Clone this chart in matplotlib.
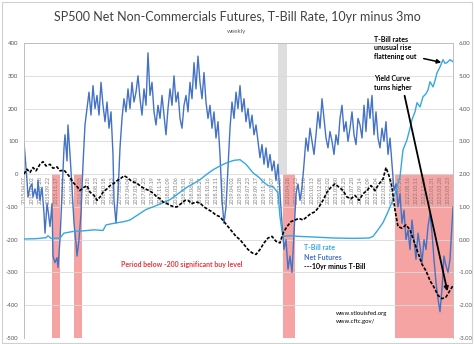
import pandas as pd
import matplotlib
matplotlib.use('Agg')
import matplotlib.pyplot as plt
from matplotlib.patches import Rectangle, FancyArrowPatch

plt.rcParams['font.family'] = ['Lato', 'DejaVu Sans']

# weekly x axis: week index from the start date
start_date = '2015-04-07'
n_weeks = 429
label_every = 8

# Net non-commercial futures (left axis)
fut_week = [0, 1, 3, 4, 6, 8, 9, 11, 13, 14, 16, 18, 20, 21, 23, 24, 26, 28, 29, 31,
            33, 34, 36, 38, 40, 41, 43, 44, 46, 48, 50, 52, 53, 55, 57, 59, 61, 63, 65, 67,
            69, 71, 73, 75, 77, 79, 81, 83, 85, 87, 89, 90, 92, 94, 96, 98, 100, 102, 104, 106,
            108, 110, 112, 114, 116, 118, 120, 122, 124, 126, 128, 130, 132, 134, 136, 138, 140, 142, 144, 146,
            148, 150, 152, 154, 156, 158, 160, 162, 164, 166, 168, 170, 172, 174, 176, 178, 180, 182, 184, 186,
            188, 190, 192, 194, 196, 198, 200, 202, 204, 206, 208, 210, 212, 214, 216, 218, 220, 222, 224, 226,
            228, 230, 232, 234, 236, 238, 240, 242, 244, 246, 248, 250, 252, 254, 256, 258, 260, 262, 264, 266,
            268, 270, 272, 274, 276, 278, 280, 282, 284, 286, 288, 290, 292, 294, 296, 298, 300, 302, 304, 306,
            308, 310, 312, 314, 316, 318, 320, 322, 324, 326, 328, 330, 332, 334, 336, 338, 340, 342, 344, 346,
            348, 350, 352, 354, 356, 358, 360, 362, 364, 366, 368, 370, 372, 374, 376, 378, 380, 382, 384, 386,
            388, 390, 392, 394, 396, 398, 400, 402, 404, 406, 408, 410, 412, 414, 416, 418, 420, 422, 424, 426,
            428, 429]
fut_value = [95, 60, -20, -70, -40, -30, -70, -45, -75, -20, -80, -40, -120, -180, -90, -110, -160, -90, -250, -270,
             -255, -285, -200, -60, 80, 120, 40, 150, 60, -40, -150, -210, -250, -200, -120, 30, 150, 200, 250, 180,
             270, 200, 240, 180, 280, 210, 160, 220, 140, 190, 60, -80, -150, -60, 80, 170, 230, 190, 260, 200,
             280, 220, 250, 300, 230, 180, 260, 210, 370, 240, 280, 190, 150, 210, 170, 240, 180, 120, 200, 260,
             210, 300, 220, 250, 170, 140, 210, 240, 190, 280, 230, 340, 260, 360, 280, 230, 310, 220, 170, 210,
             140, 190, 110, 160, 60, -80, -150, -100, 20, 140, 220, 170, 250, 200, 270, 190, 230, 160, 200, 140,
             180, 120, 150, 100, 50, 90, 30, 80, 20, 60, 10, 40, -20, 30, -60, -150, -230, -200, -290, -250,
             -300, -180, -60, -30, -80, -40, 30, 110, 70, 140, 100, 60, 120, 190, 140, 230, 170, 110, 80, 130,
             100, 60, 120, 90, 170, 210, 130, 160, 100, 140, 190, 120, 90, 170, 150, 110, 210, 130, 230, 170,
             240, 120, 190, 110, 80, 140, 100, 160, 60, 110, 30, -50, -30, -100, -60, -150, -110, -200, -170, -230,
             -140, -200, -260, -180, -220, -270, -200, -230, -160, -120, -180, -260, -330, -380, -420, -350, -250, -280, -300, -260,
             -150, -100]

# 3-month T-bill rate (right axis)
tbill_week = [0, 12, 22, 24, 27, 36, 40, 49, 60, 70, 79, 82, 90, 100, 106, 115, 122, 129, 137, 146,
              154, 163, 170, 176, 183, 189, 196, 203, 210, 216, 222, 229, 235, 239, 244, 249, 254, 256, 258, 260,
              266, 275, 290, 310, 330, 345, 349, 354, 359, 364, 369, 373, 376, 379, 383, 386, 388, 391, 393, 396,
              399, 402, 404, 406, 409, 411, 413, 416, 419, 421, 423, 426, 429]
tbill_rate = [0.02, 0.03, 0.06, 0.12, 0.04, 0.05, 0.20, 0.25, 0.27, 0.30, 0.28, 0.45, 0.50, 0.55, 0.60, 0.78, 0.92, 1.00, 1.10, 1.22,
              1.40, 1.60, 1.72, 1.83, 2.00, 2.13, 2.25, 2.35, 2.42, 2.44, 2.30, 2.04, 1.90, 1.77, 1.65, 1.62, 1.43, 0.70, 0.25, 0.10,
              0.12, 0.10, 0.08, 0.05, 0.04, 0.05, 0.10, 0.30, 0.52, 0.85, 1.22, 1.60, 1.92, 2.74, 3.05, 3.40, 3.66, 3.90, 4.18, 4.05,
              4.36, 4.45, 4.57, 4.82, 4.66, 4.85, 5.09, 5.27, 5.49, 5.38, 5.40, 5.49, 5.43]

# 10yr minus 3mo spread (right axis)
spread_week = [0, 3, 6, 9, 12, 16, 19, 22, 26, 29, 33, 36, 40, 43, 46, 49, 53, 56, 60, 63,
               66, 70, 73, 76, 79, 83, 86, 90, 93, 96, 100, 103, 107, 110, 113, 117, 121, 125, 129, 133,
               136, 139, 143, 146, 150, 153, 157, 161, 164, 168, 172, 176, 180, 184, 188, 192, 196, 200, 204, 208,
               212, 216, 220, 224, 228, 232, 236, 240, 244, 248, 252, 256, 259, 263, 267, 271, 275, 279, 283, 287,
               291, 295, 299, 303, 307, 311, 315, 319, 323, 327, 331, 335, 339, 343, 347, 351, 355, 359, 362, 365,
               368, 371, 374, 378, 382, 386, 390, 394, 398, 402, 406, 410, 414, 418, 422, 426, 429]
spread_value = [2.00, 2.15, 2.05, 2.20, 2.10, 2.30, 2.38, 2.25, 2.30, 2.18, 2.22, 2.10, 2.12, 2.02, 1.90, 1.75, 1.62, 1.50, 1.60, 1.65,
                1.45, 1.35, 1.20, 1.30, 1.45, 1.55, 1.65, 1.72, 1.80, 1.85, 1.95, 1.90, 1.80, 1.75, 1.72, 1.62, 1.55, 1.50, 1.42, 1.30,
                1.25, 1.15, 1.10, 1.05, 1.00, 1.00, 1.10, 1.20, 1.20, 1.10, 1.15, 1.12, 1.00, 0.92, 0.85, 0.75, 0.70, 0.55, 0.40, 0.25,
                0.10, 0.00, -0.15, -0.30, -0.40, -0.45, -0.30, -0.10, 0.05, 0.10, -0.05, -0.10, 0.20, 0.40, 0.55, 0.60, 0.65, 0.60, 0.70, 0.80,
                0.85, 1.00, 1.20, 1.45, 1.60, 1.70, 1.60, 1.50, 1.30, 1.25, 1.35, 1.20, 1.40, 1.50, 1.65, 1.50, 1.70, 1.85, 2.20, 1.95,
                1.60, 0.90, 0.40, 0.35, 0.45, 0.30, -0.05, -0.40, -0.75, -0.95, -1.25, -1.45, -1.70, -1.80, -1.75, -1.55, -1.40]

# shaded periods (week index ranges)
buy_periods = [(28, 36), (50, 58), (259, 271), (371, 429)]
recession = [(254, 263)]

left_ticks = [400, 300, 200, 100, 0, -100, -200, -300, -400, -500]
right_ticks = [6, 5, 4, 3, 2, 1, 0, -1, -2, -3]

W, H = 474, 344
fig = plt.figure(figsize=(W / 100, H / 100), dpi=100)


def px(x, y):
    return x / W, 1 - y / H


ax = fig.add_axes([24 / W, 1 - 338 / H, (453 - 24) / W, (338 - 43) / H])
ax2 = ax.twinx()

ax.set_xlim(0, n_weeks)
ax.set_ylim(-500, 400)
ax2.set_ylim(-3, 6)

for a, b in recession:
    ax.fill_between([a, b], 0, 400, color='#dedede', lw=0, zorder=0)
for a, b in buy_periods:
    ax.fill_between([a, b], -500, 0, color='#f6a3a3', lw=0, zorder=0)

ax.set_yticks(left_ticks)
ax.set_yticklabels([str(v) for v in left_ticks])
ax.grid(axis='y', color='#d9d9d9', lw=0.6)
ax.set_axisbelow(True)

ax.plot(fut_week, fut_value, color='#4472c4', lw=1.0, zorder=3)
ax2.plot(tbill_week, tbill_rate, color='#35a8e0', lw=1.0, zorder=3)
ax2.plot(spread_week, spread_value, color='black', lw=1.2, ls=(0, (2, 1)), zorder=4)

# date tick labels sitting on the zero line
dates = pd.date_range(start_date, periods=n_weeks + 1, freq='7D')
tick_pos = list(range(0, n_weeks + 1, label_every))
ax.set_xticks(tick_pos)
ax.set_xticklabels([dates[i].strftime('%Y.%m.%d') for i in tick_pos])
ax.spines['bottom'].set_position(('data', 0))
ax.tick_params(axis='x', length=0, pad=1.5, labelsize=4, labelcolor='#7f7f7f', labelrotation=90)
ax.tick_params(axis='y', length=0, pad=4, labelsize=4.3, labelcolor='#595959')

ax2.set_yticks(right_ticks)
ax2.set_yticklabels(['%.2f' % v for v in right_ticks])
ax2.tick_params(axis='y', length=0, pad=4, labelsize=4.3, labelcolor='#595959')

for a in (ax, ax2):
    for s in a.spines.values():
        s.set_color('#bfbfbf')
        s.set_linewidth(0.6)
ax.spines['bottom'].set_visible(False)
ax2.spines['bottom'].set_visible(False)

# titles
fig.text(*px(237, 17), 'SP500 Net Non-Commercials Futures, T-Bill Rate, 10yr minus 3mo',
         ha='center', va='center', fontsize=9.0, color='#404040')
fig.text(*px(237, 31), 'weekly', ha='center', va='center', fontsize=4.5, color='#595959')

# notes
fig.text(*px(182, 264), 'Period below -200 significant buy level', ha='center', va='center',
         fontsize=5, color='#e8343c', fontweight='bold')
fig.text(*px(304, 248), 'T-Bill rate', ha='left', va='center', fontsize=5,
         color='#35a8e0', fontweight='bold')
fig.text(*px(304, 257), 'Net Futures', ha='left', va='center', fontsize=5,
         color='#4472c4', fontweight='bold')
fig.text(*px(304, 267), '---10yr minus T-Bill', ha='left', va='center', fontsize=5,
         color='black', fontweight='bold')
fig.text(*px(336, 313), 'www.stlouisfed.org', ha='left', va='center', fontsize=4.3, color='black')
fig.text(*px(336, 321), 'www.cftc.gov/', ha='left', va='center', fontsize=4.3, color='black')

fig.text(*px(374, 48), 'T-Bill rates\nunusual rise\nflattening out', ha='left', va='center',
         fontsize=5, color='black', fontweight='bold', linespacing=1.25)
fig.text(*px(374, 83), 'Yield Curve\nturns higher', ha='left', va='center',
         fontsize=5, color='black', fontweight='bold', linespacing=1.25)

fig.add_artist(FancyArrowPatch(px(421, 58), px(444, 63), transform=fig.transFigure,
                               arrowstyle='-|>', mutation_scale=6, color='black', lw=1.1))
fig.add_artist(FancyArrowPatch(px(404, 93), px(448, 294), transform=fig.transFigure,
                               arrowstyle='-|>', mutation_scale=6, color='black', lw=1.3))

fig.add_artist(Rectangle((0.004, 0.004), 0.992, 0.99, transform=fig.transFigure,
                         fill=False, edgecolor='#d0d0d0', lw=0.8))

fig.savefig('out.png', dpi=100)
